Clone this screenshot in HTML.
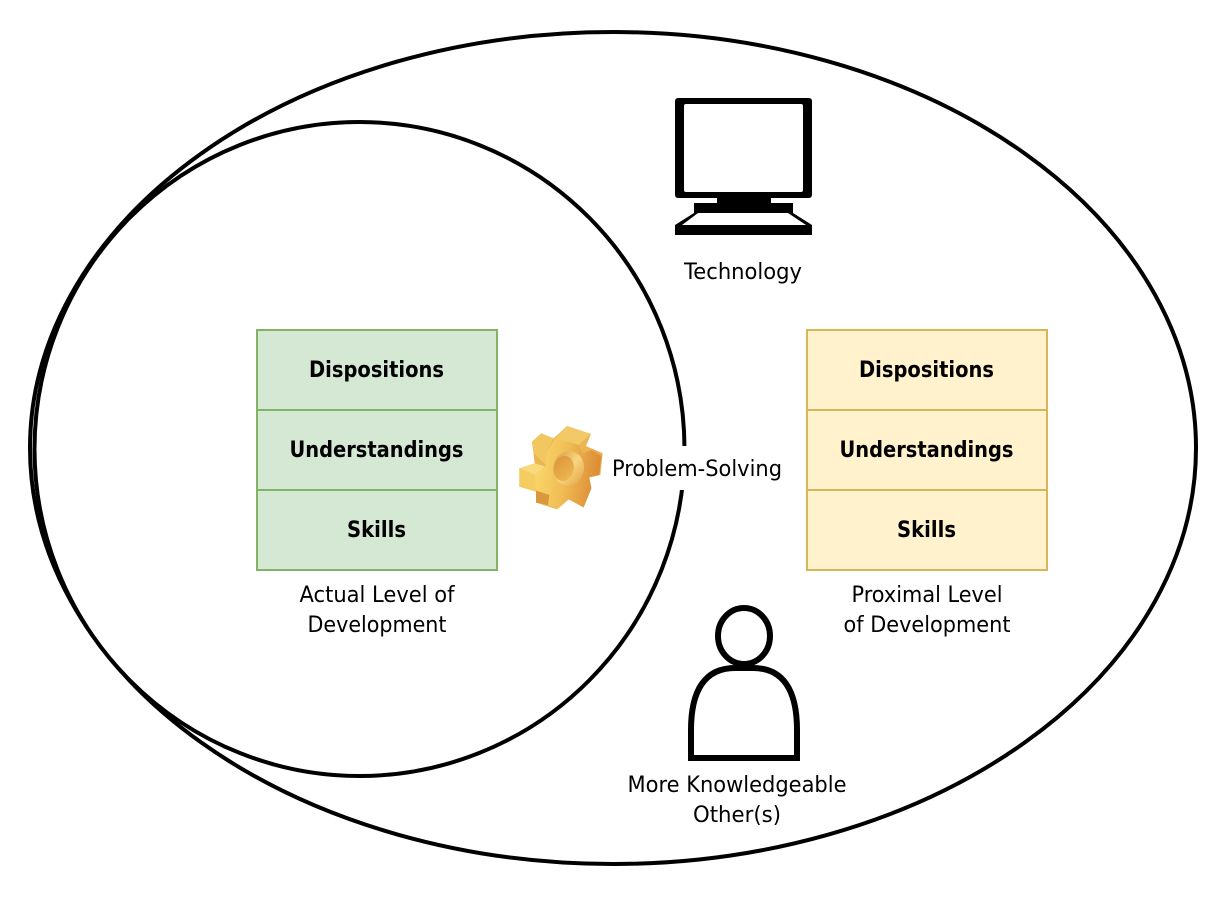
<!DOCTYPE html>
<html>
<head>
<meta charset="utf-8">
<style>
html,body{margin:0;padding:0;background:#fff;width:1224px;height:900px;overflow:hidden}
svg{display:block}
text{font-family:"DejaVu Sans",sans-serif;fill:#000;text-anchor:middle;font-size:22px}
.b{font-weight:bold}
</style>
</head>
<body>
<svg width="1224" height="900" viewBox="0 0 1224 900" xmlns="http://www.w3.org/2000/svg">
<defs>
<linearGradient id="f" x1="0" y1="0" x2="1" y2="0.15"><stop offset="0" stop-color="#fbdc6c"/><stop offset=".5" stop-color="#f0bd55"/><stop offset="1" stop-color="#dc8d36"/></linearGradient>
<linearGradient id="h" x1="0" y1="0" x2="1" y2="1"><stop offset="0" stop-color="#da9238"/><stop offset="1" stop-color="#f0bc55"/></linearGradient>
<linearGradient id="r" x1="0" y1="0" x2="1" y2="0.6"><stop offset="0" stop-color="#d99a40"/><stop offset=".6" stop-color="#f6d680"/><stop offset="1" stop-color="#eab255"/></linearGradient>
</defs>
<ellipse cx="613" cy="448" rx="583" ry="416" fill="#fff" stroke="#000" stroke-width="4"/>
<ellipse cx="359.5" cy="449" rx="325" ry="327" fill="#fff" stroke="#000" stroke-width="4"/>
<rect x="612" y="446" width="171" height="44" fill="#fff"/>

<g stroke-width="2">
<rect x="257" y="330" width="240" height="80" fill="#d5e8d4" stroke="#82b366"/>
<rect x="257" y="410" width="240" height="80" fill="#d5e8d4" stroke="#82b366"/>
<rect x="257" y="490" width="240" height="80" fill="#d5e8d4" stroke="#82b366"/>
<rect x="807" y="330" width="240" height="80" fill="#fff2cc" stroke="#d6b656"/>
<rect x="807" y="410" width="240" height="80" fill="#fff2cc" stroke="#d6b656"/>
<rect x="807" y="490" width="240" height="80" fill="#fff2cc" stroke="#d6b656"/>
</g>
<text class="b" x="376.500" y="377" textLength="135" lengthAdjust="spacingAndGlyphs">Dispositions</text>
<text class="b" x="376.500" y="457" textLength="174" lengthAdjust="spacingAndGlyphs">Understandings</text>
<text class="b" x="376.500" y="537" textLength="59" lengthAdjust="spacingAndGlyphs">Skills</text>
<text class="b" x="926.500" y="377" textLength="135" lengthAdjust="spacingAndGlyphs">Dispositions</text>
<text class="b" x="926.500" y="457" textLength="174" lengthAdjust="spacingAndGlyphs">Understandings</text>
<text class="b" x="926.500" y="537" textLength="59" lengthAdjust="spacingAndGlyphs">Skills</text>

<text x="377" y="602" textLength="155" lengthAdjust="spacingAndGlyphs">Actual Level of</text>
<text x="377" y="632" textLength="139" lengthAdjust="spacingAndGlyphs">Development</text>
<text x="927" y="602" textLength="151" lengthAdjust="spacingAndGlyphs">Proximal Level</text>
<text x="927" y="632" textLength="167" lengthAdjust="spacingAndGlyphs">of Development</text>
<text x="743" y="279" textLength="118" lengthAdjust="spacingAndGlyphs">Technology</text>
<text x="697" y="476" textLength="170" lengthAdjust="spacingAndGlyphs">Problem-Solving</text>
<text x="737" y="792" textLength="219" lengthAdjust="spacingAndGlyphs">More Knowledgeable</text>
<text x="737" y="822" textLength="88" lengthAdjust="spacingAndGlyphs">Other(s)</text>

<!-- monitor -->
<rect x="675" y="98" width="137" height="100" rx="3" fill="#000"/>
<rect x="684" y="104" width="119" height="88" rx="2" fill="#fff"/>
<rect x="717" y="197" width="54" height="8" fill="#000"/>
<path d="M694 203H793V213L812 225V235H675V225L694 213Z" fill="#000"/>
<path d="M698 213H788L806 225H682Z" fill="#fff"/>

<!-- person -->
<ellipse cx="744" cy="636" rx="26" ry="28" fill="#fff" stroke="#000" stroke-width="6"/>
<path d="M691 758V730C691 690 705 668 735 668H753C783 668 797 690 797 730V758Z" fill="#fff" stroke="#000" stroke-width="6"/>

<!-- gear -->
<g transform="translate(512 420) scale(.33333)">
<path d="M165 18L237 42L222 78L238 85L272 100L265 165L232 172L238 205L215 262L170 238L135 268L72 248L72 215L22 200L22 145L68 130L60 65L88 40L125 55Z" fill="#eab552"/>
<path d="M165 18L237 42L200 75L130 55Z" fill="#f3c866"/>
<path d="M88 40L125 55L105 95L102 135L65 100L60 65Z" fill="#f2c660"/>
<path d="M22 145L68 130L100 140L68 165Z" fill="#f8da7a"/>
<path d="M22 145L68 165L72 215L22 200Z" fill="#f4cc62"/>
<path d="M238 85L272 100L268 108L235 92Z" fill="#e9ad50"/>
<path d="M105 95L130 55L200 75L212 100L238 90L268 108L262 165L232 172L238 205L215 262L170 238L135 268L108 255L112 225L72 212L68 165L100 140Z" fill="url(#f)"/>
<path d="M72 212L112 225L108 255L72 248Z" fill="#d9983c"/>
<ellipse cx="170" cy="145" rx="46" ry="52" transform="rotate(12 170 145)" fill="url(#r)"/>
<ellipse cx="155" cy="145" rx="30" ry="38" transform="rotate(12 155 145)" fill="url(#h)"/>
</g>
</svg>
</body>
</html>
